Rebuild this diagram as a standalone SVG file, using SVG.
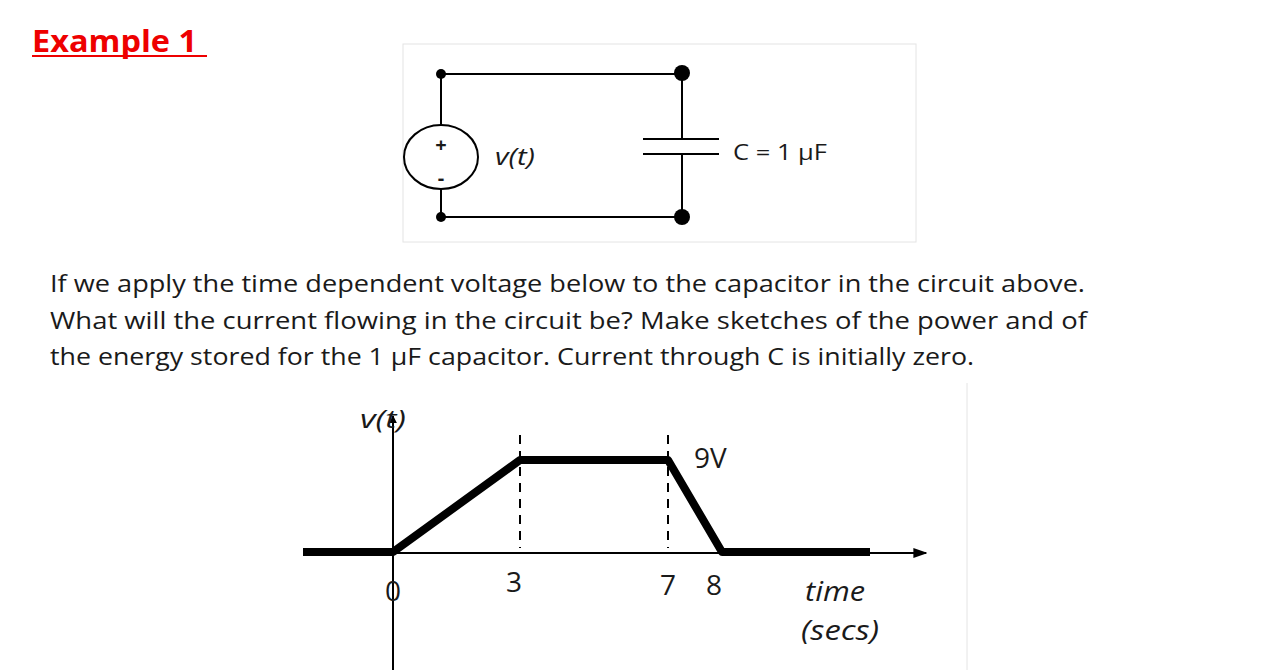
<svg xmlns="http://www.w3.org/2000/svg" width="1272" height="670" viewBox="0 0 1272 670">
<defs>
<style>
.t{font-family:"Open Sans","Liberation Sans",sans-serif;fill:#1a1a1a}
.w{stroke:#000;stroke-width:2;fill:none}
</style>
<marker id="ar" viewBox="0 0 10 10" refX="9" refY="5" markerWidth="8" markerHeight="8" markerUnits="userSpaceOnUse" orient="auto"><path d="M0,0L10,5L0,10z" fill="#000"/></marker>
<marker id="ar2" viewBox="0 0 10 10" refX="9" refY="5" markerWidth="14" markerHeight="14" markerUnits="userSpaceOnUse" orient="auto"><path d="M0,1.5L10,5L0,8.5z" fill="#000"/></marker>
</defs>
<rect width="1272" height="670" fill="#fff"/>
<g id="title">
<text x="32" y="52" font-family="Open Sans,Liberation Sans,sans-serif" font-weight="bold" font-size="31" fill="#e00" textLength="165" lengthAdjust="spacingAndGlyphs">Example 1</text>
<line x1="32" y1="56" x2="207" y2="56" stroke="#e00" stroke-width="2"/>
</g>
<g id="circuit">
<rect x="403" y="44" width="513" height="198" fill="none" stroke="#e4e4e4" stroke-width="1"/>
<path class="w" d="M441,74H682V139M682,154V217H441V189M441,125V74"/>
<ellipse cx="441" cy="157" rx="37" ry="32" class="w"/>
<text x="441" y="152" class="t" font-size="20" font-weight="bold" text-anchor="middle">+</text>
<text x="441" y="185" class="t" font-size="20" font-weight="bold" text-anchor="middle">-</text>
<line x1="643" y1="139" x2="719" y2="139" class="w"/>
<line x1="643" y1="154" x2="719" y2="154" class="w"/>
<circle cx="441" cy="74" r="5"/><circle cx="441" cy="217" r="5"/>
<circle cx="682" cy="73" r="8"/><circle cx="682" cy="217" r="8"/>
<text x="495" y="165" class="t" font-size="23" font-style="italic" textLength="40" lengthAdjust="spacingAndGlyphs">v(t)</text>
<text x="733" y="160" class="t" font-size="22" textLength="94" lengthAdjust="spacingAndGlyphs">C = 1 µF</text>
</g>
<g id="question" class="t" font-size="24">
<text x="50" y="292" textLength="1035" lengthAdjust="spacingAndGlyphs">If we apply the time dependent voltage below to the capacitor in the circuit above.</text>
<text x="50" y="329" textLength="1037" lengthAdjust="spacingAndGlyphs">What will the current flowing in the circuit be? Make sketches of the power and of</text>
<text x="50" y="365" textLength="924" lengthAdjust="spacingAndGlyphs">the energy stored for the 1 µF capacitor. Current through C is initially zero.</text>
</g>
<g id="graph">
<line x1="967" y1="383" x2="967" y2="670" stroke="#e4e4e4"/>
<line x1="393" y1="670" x2="393" y2="416" stroke="#000" stroke-width="2" marker-end="url(#ar)"/>
<line x1="393" y1="553" x2="926" y2="553" stroke="#000" stroke-width="2" marker-end="url(#ar2)"/>
<path d="M520,435V548M668,435V548" stroke="#000" stroke-width="2" stroke-dasharray="9,7" fill="none"/>
<path d="M303,552H393L520,460H668L722,552H870" stroke="#000" stroke-width="8" fill="none" stroke-linejoin="round"/>
<g class="t" font-size="28">
<text x="360" y="428" font-style="italic" font-size="26" textLength="46" lengthAdjust="spacingAndGlyphs">v(t)</text>
<text x="393" y="601" text-anchor="middle">0</text>
<text x="514" y="592" text-anchor="middle">3</text>
<text x="668" y="595" text-anchor="middle">7</text>
<text x="714" y="595" text-anchor="middle">8</text>
<text x="694" y="468">9V</text>
<text x="805" y="601" font-style="italic" textLength="60" lengthAdjust="spacingAndGlyphs">time</text>
<text x="801" y="640" font-style="italic" textLength="78" lengthAdjust="spacingAndGlyphs">(secs)</text>
</g>
</g>
</svg>
